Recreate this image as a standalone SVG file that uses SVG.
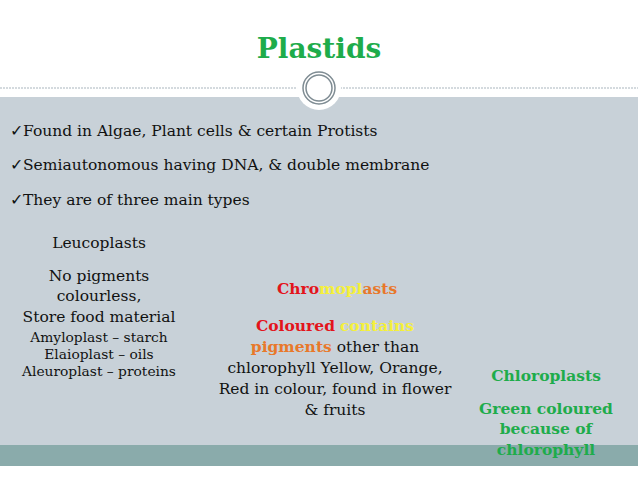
<svg xmlns="http://www.w3.org/2000/svg" width="638" height="478" viewBox="0 0 638 478" font-family="'DejaVu Serif', 'Liberation Serif', serif">
<style>
.b{font-size:15.5px}
.s{font-size:15.5px}
.x{font-size:13.8px}
.bold{font-weight:bold}
</style>
<rect width="638" height="478" fill="#fff"/>
<rect x="0" y="97" width="638" height="348" fill="#c8d1d8"/>
<rect x="0" y="445" width="638" height="21" fill="#8aabab"/>
<line x1="0" y1="88" x2="298" y2="88" stroke="#a9b5bd" stroke-dasharray="2,1"/>
<line x1="340" y1="88" x2="638" y2="88" stroke="#a9b5bd" stroke-dasharray="2,1"/>
<circle cx="319" cy="88" r="22" fill="#fff"/>
<circle cx="319" cy="88" r="16" fill="none" stroke="#7f8c93" stroke-width="1.5"/>
<circle cx="319" cy="88" r="13" fill="none" stroke="#7f8c93" stroke-width="1.5"/>
<text x="319" y="58" text-anchor="middle" font-size="28" font-weight="bold" fill="#1eac4b">Plastids</text>
<g id="bullets" class="b" fill="#111">
<text x="10" y="136">✓Found in Algae, Plant cells &amp; certain Protists</text>
<text x="10" y="170">✓Semiautonomous having DNA, &amp; double membrane</text>
<text x="10" y="205">✓They are of three main types</text>
</g>
<g id="leucoplasts" text-anchor="middle" fill="#111">
<text x="99" y="248" class="s">Leucoplasts</text>
<text x="99" y="281" class="s">No pigments</text>
<text x="99" y="301" class="s">colourless,</text>
<text x="99" y="322" class="s">Store food material</text>
<text x="99" y="342" class="x">Amyloplast – starch</text>
<text x="99" y="359" class="x">Elaioplast – oils</text>
<text x="99" y="376" class="x">Aleuroplast – proteins</text>
</g>
<g id="chromoplasts" text-anchor="middle" class="s" fill="#111">
<text x="337" y="294" class="bold"><tspan fill="#e3141b">Chro</tspan><tspan fill="#f5f03a">mopl</tspan><tspan fill="#e8782a">asts</tspan></text>
<text x="335" y="331"><tspan class="bold" fill="#e3141b">Coloured</tspan> <tspan class="bold" fill="#f5f03a">contains</tspan></text>
<text x="335" y="352"><tspan class="bold" fill="#e8782a">pigments</tspan> other than</text>
<text x="335" y="373">chlorophyll Yellow, Orange,</text>
<text x="335" y="394">Red in colour, found in flower</text>
<text x="335" y="415">&amp; fruits</text>
</g>
<g id="chloroplasts" text-anchor="middle" class="s bold" fill="#1eac4b">
<text x="546" y="381">Chloroplasts</text>
<text x="546" y="414">Green coloured</text>
<text x="546" y="434">because of</text>
<text x="546" y="455">chlorophyll</text>
</g>
</svg>
